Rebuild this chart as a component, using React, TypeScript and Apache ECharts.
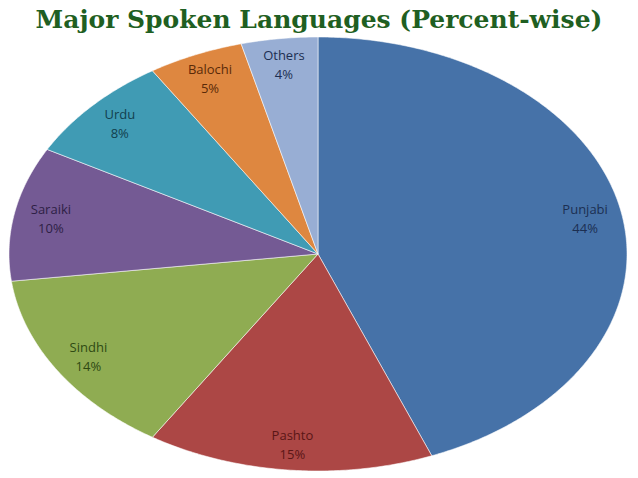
import React, { useEffect, useRef } from "react";
import * as echarts from "echarts";

const titleText = "Major Spoken Languages (Percent-wise)";
const categories = ["Punjabi", "Pashto", "Sindhi", "Saraiki", "Urdu", "Balochi", "Others"];
const values = [44, 15, 14, 10, 8, 5, 4];
const colors = ["#4672A8", "#AC4745", "#8FAC52", "#745A94", "#409BB4", "#DE8740", "#98AED4"];
const labelColors = ["#1C2F52", "#5A1616", "#2E4A12", "#2E1F45", "#12404E", "#5A2A08", "#1C2F52"];

export default function App() {
  const ref = useRef<HTMLDivElement>(null);
  useEffect(() => {
    if (!ref.current) return;
    const chart = echarts.init(ref.current, null, { renderer: "svg" });
    const total = values.reduce((a, b) => a + b, 0);
    const cx = 318, cy = 254, rx = 309, ry = 217;
    chart.setOption({
      animation: false,
      title: {
        text: titleText,
        left: "center",
        top: 2,
        textStyle: {
          fontFamily: "DejaVu Serif",
          fontWeight: "bold",
          fontSize: 25,
          color: "#1F5F22",
        },
      },
      series: [
        {
          type: "custom",
          coordinateSystem: "none",
          data: values.map((v, i) => [i, v]),
          renderItem: (params: any, api: any) => {
            const i = params.dataIndex;
            const v = api.value(1);
            let start = 0;
            for (let j = 0; j < i; j++) start += values[j];
            const a0 = (start / total) * Math.PI * 2;
            const a1 = ((start + v) / total) * Math.PI * 2;
            const pts: number[][] = [[cx, cy]];
            const n = Math.max(8, Math.ceil((a1 - a0) / 0.01));
            for (let k = 0; k <= n; k++) {
              const t = a0 + ((a1 - a0) * k) / n;
              pts.push([cx + rx * Math.sin(t), cy - ry * Math.cos(t)]);
            }
            const m = (a0 + a1) / 2;
            const f = 0.88;
            return {
              type: "group",
              children: [
                {
                  type: "polygon",
                  shape: { points: pts },
                  style: { fill: colors[i], stroke: "rgba(255,255,255,0.55)", lineWidth: 1 },
                },
                {
                  type: "text",
                  x: cx + rx * f * Math.sin(m),
                  y: cy - ry * f * Math.cos(m),
                  style: {
                    text: categories[i] + "\n" + v + "%",
                    align: "center",
                    verticalAlign: "middle",
                    fill: labelColors[i],
                    font: "13px 'Open Sans'",
                    lineHeight: 19,
                  },
                },
              ],
            };
          },
        },
      ],
    });
    return () => chart.dispose();
  }, []);
  return <div ref={ref} style={{ width: 638, height: 478, position: "absolute", left: 0, top: 0, background: "#fff" }} />;
}
